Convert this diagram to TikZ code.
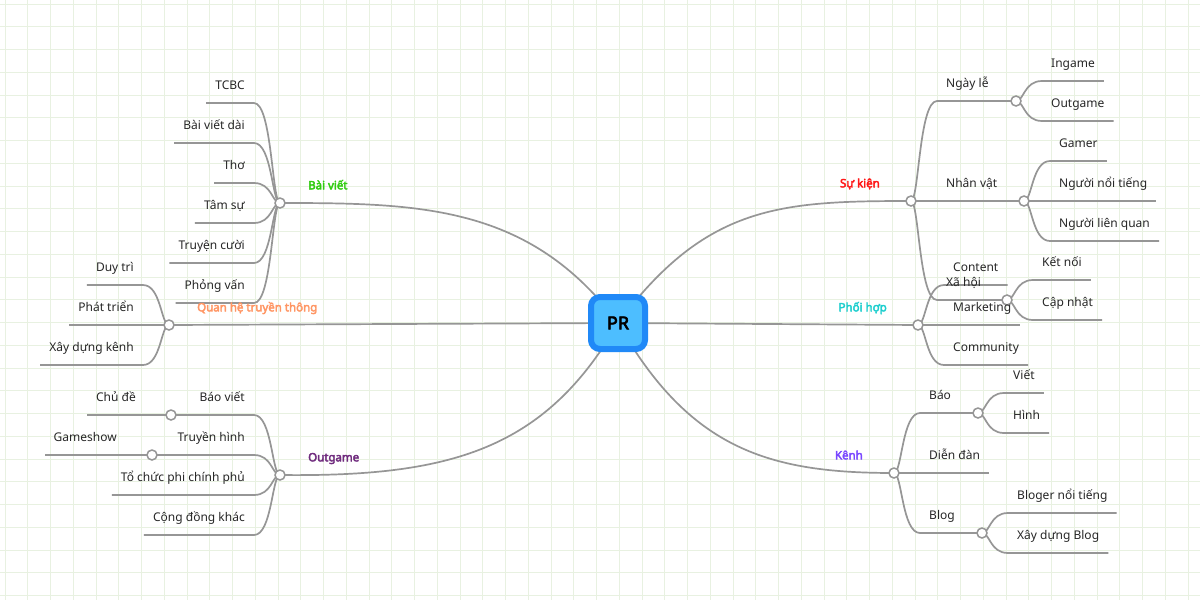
\documentclass[tikz,border=0pt]{standalone}
\usepackage{fontspec}
\setmainfont{Noto Sans}[AutoFakeBold=3.5]
\usepackage{tikz}
\usetikzlibrary{positioning,calc}
\pgfdeclarelayer{background}
\pgfsetlayers{background,main}
\definecolor{gridc}{RGB}{232,241,225}
\definecolor{linec}{RGB}{150,150,150}
\definecolor{prfill}{RGB}{77,190,255}
\definecolor{prdraw}{RGB}{32,137,247}
\definecolor{cbai}{RGB}{48,204,16}
\definecolor{cquan}{RGB}{255,150,100}
\definecolor{cout}{RGB}{112,44,126}
\definecolor{csk}{RGB}{255,24,24}
\definecolor{cph}{RGB}{28,206,206}
\definecolor{ckenh}{RGB}{122,72,255}

\begin{document}
\begin{tikzpicture}[x=1pt,y=-1pt]
\tikzstyle{root}=[rectangle,rounded corners=9pt,draw=prdraw,fill=prfill,line width=6pt,minimum width=54pt,minimum height=52pt,font=\fontsize{18}{20}\selectfont\bfseries]
\tikzstyle{jct}=[circle,draw=linec,fill=white,line width=1.5pt,inner sep=0pt,minimum size=10pt]
\tikzstyle{leaf}=[inner xsep=9pt,inner ysep=10.5pt,text height=9pt,text depth=3pt,text=black!85,font=\fontsize{12}{14}\selectfont]
\tikzstyle{topic}=[leaf,font=\fontsize{11.5}{14}\selectfont\bfseries]
\tikzstyle{link}=[draw=linec,line width=1.7pt]

\useasboundingbox (0,0) rectangle (1200,600);
\begin{pgfonlayer}{background}
\fill[white] (0,0) rectangle (1200,600);
\foreach \gx in {0,...,52} \draw[gridc,line width=1pt] ({5+22.75*\gx},0) -- ++(0,600);
\foreach \gy in {0,...,26} \draw[gridc,line width=1pt] (0,{4+22.75*\gy}) -- ++(1200,0);
\end{pgfonlayer}

% centre
\node[root] (pr) at (618,323) {PR};

% main junctions
\node[jct] (bv) at (280,203) {};
\node[jct] (qh) at (169,325) {};
\node[jct] (og) at (280,475) {};
\node[jct] (sk) at (911,201) {};
\node[jct] (ph) at (918,325) {};
\node[jct] (kn) at (894,473) {};

\node[topic,text=cbai,anchor=south west] (bvl) at ([xshift=19pt]bv.center) {Bài viết};
\node[topic,text=cquan,anchor=south west] (qhl) at ([xshift=19pt]qh.center) {Quan hệ truyền thông};
\node[topic,text=cout,anchor=south west] (ogl) at ([xshift=19pt]og.center) {Outgame};
\node[topic,text=csk,anchor=south east] (skl) at ([xshift=-22pt]sk.center) {Sự kiện};
\node[topic,text=cph,anchor=south east] (phl) at ([xshift=-22pt]ph.center) {Phối hợp};
\node[topic,text=ckenh,anchor=south east] (knl) at ([xshift=-22pt]kn.center) {Kênh};

% left leaves
\node[leaf,anchor=south east] (tcbc) at ($(bv)+(-26,-100)$) {TCBC};
\node[leaf,anchor=south east] (bvdai) at ($(bv)+(-26,-60)$) {Bài viết dài};
\node[leaf,anchor=south east] (tho) at ($(bv)+(-26,-20)$) {Thơ};
\node[leaf,anchor=south east] (tamsu) at ($(bv)+(-26,20)$) {Tâm sự};
\node[leaf,anchor=south east] (tcuoi) at ($(bv)+(-26,60)$) {Truyện cười};
\node[leaf,anchor=south east] (pvan) at ($(bv)+(-26,100)$) {Phỏng vấn};

\node[leaf,anchor=south east] (duytri) at ($(qh)+(-26,-40)$) {Duy trì};
\node[leaf,anchor=south east] (ptrien) at ($(qh)+(-26,0)$) {Phát triển};
\node[leaf,anchor=south east] (xdkenh) at ($(qh)+(-26,40)$) {Xây dựng kênh};

\node[leaf,anchor=south east] (baoviet) at ($(og)+(-26,-60)$) {Báo viết};
\node[leaf,anchor=south east] (thinh) at ($(og)+(-26,-20)$) {Truyền hình};
\node[leaf,anchor=south east] (tochuc) at ($(og)+(-26,20)$) {Tổ chức phi chính phủ};
\node[leaf,anchor=south east] (congdong) at ($(og)+(-26,60)$) {Cộng đồng khác};
\node[jct] (sjbv) at (171,415) {};
\node[jct] (sjth) at (152,455) {};
\node[leaf,anchor=south east] (chude) at ($(sjbv)+(-26,0)$) {Chủ đề};
\node[leaf,anchor=south east] (gshow) at ($(sjth)+(-26,0)$) {Gameshow};

% right leaves
\node[leaf,anchor=south west] (ngayle) at ($(sk)+(26,-100)$) {Ngày lễ};
\node[leaf,anchor=south west] (nhanvat) at ($(sk)+(26,0)$) {Nhân vật};
\node[leaf,anchor=south west] (xahoi) at ($(sk)+(26,99)$) {Xã hội};
\node[jct] (sjnl) at (1016,101) {};
\node[jct] (sjnv) at (1024,201) {};
\node[jct] (sjxh) at (1007,300) {};
\node[leaf,anchor=south west] (ingame) at ($(sjnl)+(26,-20)$) {Ingame};
\node[leaf,anchor=south west] (outgame) at ($(sjnl)+(26,20)$) {Outgame};
\node[leaf,anchor=south west] (gamer) at ($(sjnv)+(26,-40)$) {Gamer};
\node[leaf,anchor=south west] (nguoint) at ($(sjnv)+(26,0)$) {Người nổi tiếng};
\node[leaf,anchor=south west] (nguoilq) at ($(sjnv)+(26,40)$) {Người liên quan};
\node[leaf,anchor=south west] (ketnoi) at ($(sjxh)+(26,-20)$) {Kết nối};
\node[leaf,anchor=south west] (capnhat) at ($(sjxh)+(26,20)$) {Cập nhật};

\node[leaf,anchor=south west] (content) at ($(ph)+(26,-40)$) {Content};
\node[leaf,anchor=south west] (mkt) at ($(ph)+(26,0)$) {Marketing};
\node[leaf,anchor=south west] (commu) at ($(ph)+(26,40)$) {Community};

\node[leaf,anchor=south west] (bao) at ($(kn)+(26,-60)$) {Báo};
\node[leaf,anchor=south west] (diendan) at ($(kn)+(26,0)$) {Diễn đàn};
\node[leaf,anchor=south west] (blog) at ($(kn)+(26,60)$) {Blog};
\node[jct] (sjbao) at (978,413) {};
\node[jct] (sjblog) at (982,533) {};
\node[leaf,anchor=south west] (viet) at ($(sjbao)+(26,-20)$) {Viết};
\node[leaf,anchor=south west] (hinh) at ($(sjbao)+(26,20)$) {Hình};
\node[leaf,anchor=south west] (bloger) at ($(sjblog)+(26,-20)$) {Bloger nổi tiếng};
\node[leaf,anchor=south west] (xdblog) at ($(sjblog)+(26,20)$) {Xây dựng Blog};

\begin{pgfonlayer}{background}
% from the centre
\draw[link] (pr.center) .. controls (530,205) and (420,203) .. (bv.center);
\draw[link] (pr.center) -- (qh.center);
\draw[link] (pr.center) .. controls (545,450) and (450,477) .. (og.center);
\draw[link] (pr.center) .. controls (706,205) and (780,201) .. (sk.center);
\draw[link] (pr.center) -- (ph.center);
\draw[link] (pr.center) .. controls (690,450) and (770,473) .. (kn.center);

% left branches
\foreach \j/\n in {bv/tcbc,bv/bvdai,bv/tho,bv/tamsu,bv/tcuoi,bv/pvan,qh/duytri,qh/ptrien,qh/xdkenh,
  og/baoviet,og/thinh,og/tochuc,og/congdong,sjbv/chude,sjth/gshow}
  \draw[link] (\j.center) .. controls ($(\j)+(-8,0)$) and ($(\n.south east)+(18,0)$) .. (\n.south east) -- (\n.south west);
\draw[link] (baoviet.south east) -- (sjbv.center);
\draw[link] (thinh.south east) -- (sjth.center);

% right branches
\foreach \j/\n in {sk/ngayle,sk/nhanvat,sk/xahoi,sjnl/ingame,sjnl/outgame,sjnv/gamer,sjnv/nguoint,sjnv/nguoilq,
  sjxh/ketnoi,sjxh/capnhat,ph/content,ph/mkt,ph/commu,kn/bao,kn/diendan,kn/blog,
  sjbao/viet,sjbao/hinh,sjblog/bloger,sjblog/xdblog}
  \draw[link] (\j.center) .. controls ($(\j)+(8,0)$) and ($(\n.south west)+(-18,0)$) .. (\n.south west) -- (\n.south east);
\draw[link] (ngayle.south west) -- (sjnl.center);
\draw[link] (nhanvat.south west) -- (sjnv.center);
\draw[link] (xahoi.south west) -- (sjxh.center);
\draw[link] (bao.south west) -- (sjbao.center);
\draw[link] (blog.south west) -- (sjblog.center);
\end{pgfonlayer}
\end{tikzpicture}
\end{document}
